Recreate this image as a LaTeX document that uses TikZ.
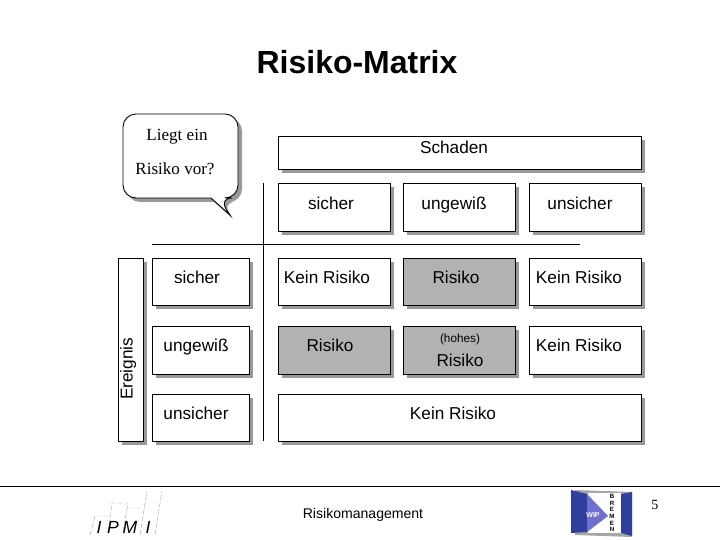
\documentclass[tikz,border=0pt]{standalone}
\usepackage{fontspec}
\setmainfont{Liberation Sans}
\newfontfamily\serifface{Liberation Serif}
\usepackage{xcolor}
\usepackage{tikz}
\usetikzlibrary{shadows}
\definecolor{shadowgray}{HTML}{999999}
\definecolor{riskgray}{HTML}{B2B2B2}
\definecolor{wipblue}{HTML}{2E3F9E}
\definecolor{wiplight}{HTML}{6F6FD0}
\tikzset{
  x=0.02cm,y=-0.02cm,
  box/.style 2 args={minimum width=#1*0.02cm,minimum height=#2*0.02cm},
  cell/.style={rectangle,draw=black,fill=white,inner sep=0pt,line width=0.5pt,
    drop shadow={shadow xshift=0.08cm,shadow yshift=-0.08cm,fill=shadowgray,opacity=1}},
  risk/.style={cell,fill=riskgray},
  txt/.style={font=\fontsize{9.8}{12}\selectfont,inner sep=0pt,text height=7pt,text depth=2pt,yshift=-0.025cm},
  serif/.style={font=\serifface\fontsize{9.7}{12}\selectfont,inner sep=0pt,yshift=-0.025cm},
  logotxt/.style={font=\itshape\fontsize{10}{12}\selectfont,inner sep=0pt},
  rule/.style={draw=black,line width=0.5pt},
  bubble/.style={rounded corners=0.26cm}
}
\begin{document}
\begin{tikzpicture}
\useasboundingbox (0,0) rectangle (720,540);

\node[font=\bfseries\fontsize{18.2}{22}\selectfont] (title) at (357,62) {Risiko-Matrix};

% speech bubble
\fill[shadowgray,bubble] (180,118) -- (242,118) -- (242,202) -- (222,202) [sharp corners] -- (233,219)
  -- (214,202) [bubble] -- (127,202) -- (127,118) -- cycle;
\draw[fill=white,line width=0.5pt,bubble] (180,114) -- (238,114) -- (238,198) -- (219,198) [sharp corners] -- (230,215)
  -- (211,198) [bubble] -- (123,198) -- (123,114) -- cycle;
\node[serif] (liegt) at (177,135) {Liegt ein};
\node[serif] (vor) at (175,167) {Risiko vor?};

% head
\node[cell,box={363}{33}] (schaden) at (459.5,152.5) {};
\node[txt] (schadentxt) at (454,147.6) {Schaden};
\node[cell,box={112}{48}] (hsicher) at (334,207) {};
\node[txt] (hsichertxt) at (331,203.6) {sicher};
\node[cell,box={112}{48}] (hungewiss) at (459,207) {};
\node[txt] (hungewisstxt) at (454,203.6) {ungewiß};
\node[cell,box={112}{48}] (hunsicher) at (585,207) {};
\node[txt] (hunsichertxt) at (580,203.6) {unsicher};

% left side
\node[cell,box={25}{183}] (ereignis) at (130.5,349.5) {};
\node[txt,rotate=90,yshift=0.025cm] (ereignistxt) at (129.6,367.5) {Ereignis};
\node[cell,box={97}{47}] (zsicher) at (200.5,281.5) {};
\node[txt] (zsichertxt) at (197,277.6) {sicher};
\node[cell,box={97}{48}] (zungewiss) at (200.5,350) {};
\node[txt] (zungewisstxt) at (196,345.6) {ungewiß};
\node[cell,box={97}{47}] (zunsicher) at (200.5,417.5) {};
\node[txt] (zunsichertxt) at (196,413.6) {unsicher};

% matrix
\node[cell,box={112}{47}] (a1) at (334,281.5) {};
\node[txt] (a1txt) at (327,277.6) {Kein Risiko};
\node[risk,box={112}{47}] (a2) at (459,281.5) {};
\node[txt] (a2txt) at (456,277.6) {Risiko};
\node[cell,box={112}{47}] (a3) at (585,281.5) {};
\node[txt] (a3txt) at (579,277.6) {Kein Risiko};
\node[risk,box={112}{48}] (b1) at (334,350) {};
\node[txt] (b1txt) at (330,345.6) {Risiko};
\node[risk,box={112}{48}] (b2) at (459,350) {};
\node[font=\fontsize{6.7}{8}\selectfont,inner sep=0pt] (b2top) at (460,339) {(hohes)};
\node[txt] (b2txt) at (460,360.6) {Risiko};
\node[cell,box={112}{48}] (b3) at (585,350) {};
\node[txt] (b3txt) at (579,345.6) {Kein Risiko};
\node[cell,box={363}{47}] (c1) at (459.5,417.5) {};
\node[txt] (c1txt) at (453,413.6) {Kein Risiko};

% cross lines
\coordinate (vtop) at (263,183);
\coordinate (vbot) at (263,441);
\coordinate (hleft) at (152,244);
\coordinate (hright) at (580,244);
\draw[rule] (vtop) -- (vbot);
\draw[rule] (hleft) -- (hright);

% footer
\coordinate (fleft) at (0,486);
\coordinate (fright) at (720,486);
\draw[rule] (fleft) -- (fright);
\node[font=\fontsize{8}{10}\selectfont,inner sep=0pt] (thema) at (363,515) {Risikomanagement};
\node[font=\serifface\fontsize{8}{10}\selectfont,inner sep=0pt] (seite) at (655,505) {5};

% logo left
\begin{scope}[gray!70,line width=0.25pt,dash pattern=on 3pt off 1pt]
  \draw (90,535) -- (95,516) -- (108,516) (108,532) -- (112,503) -- (128,503)
        (123,532) -- (128,503) (128,508) -- (142,508) (140,535) -- (147,491) (155,535) -- (162,491);
\end{scope}
\node[logotxt] (logoi) at (99,527) {I};
\node[logotxt] (logop) at (113,527) {P};
\node[logotxt] (logom) at (130,527) {M};
\node[logotxt] (logoj) at (148,527) {I};

% logo right
\fill[gray!70] (575,490) -- (632,492) -- (632,537) -- (575,535) -- cycle;
\fill[white] (588,493) rectangle (621,533);
\fill[wipblue] (571,490) -- (587,494) -- (587,532) -- (571,533) -- cycle;
\fill[wipblue] (621,494) -- (632,492) -- (632,536) -- (621,533) -- cycle;
\fill[wiplight] (587,494) -- (608,516) -- (587,532) -- cycle;
\node[font=\bfseries\fontsize{4}{5}\selectfont,text=white,inner sep=0pt] (wip) at (593,515) {WIP};
\node[font=\bfseries\fontsize{3.5}{3.8}\selectfont,align=center,inner sep=0pt] (bremen) at (612,513) {B\\R\\E\\M\\E\\N};
\end{tikzpicture}
\end{document}
